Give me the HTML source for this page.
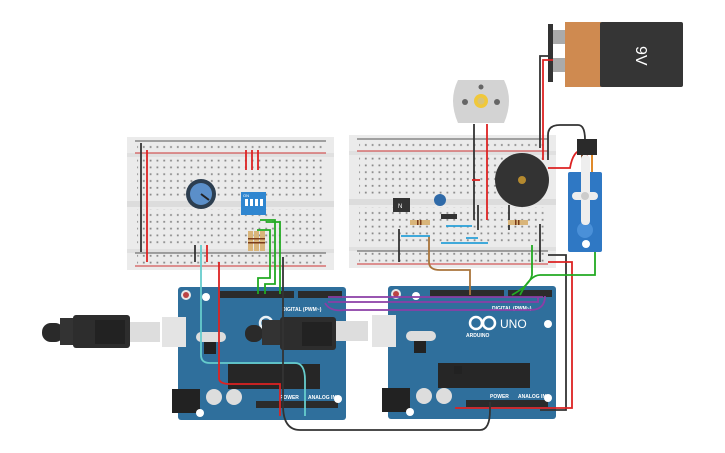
<!DOCTYPE html>
<html><head><meta charset="utf-8"><style>html,body{margin:0;padding:0;background:#fff}svg{display:block}</style></head><body>
<svg width="725" height="453" viewBox="0 0 725 453" xmlns="http://www.w3.org/2000/svg" font-family="Liberation Sans, sans-serif">
<defs>
<pattern id="dots" width="6.8" height="6.8" patternUnits="userSpaceOnUse"><rect x="2.3" y="2.3" width="1.8" height="1.8" fill="#8a8a8a"/></pattern>
<g id="bb">
<rect x="0" y="0" width="207" height="133" fill="#ebebeb"/>
<rect x="0" y="16" width="207" height="4" fill="#e0e0e0"/>
<rect x="0" y="64" width="207" height="6" fill="#dcdcdc"/>
<rect x="0" y="112" width="207" height="4" fill="#e0e0e0"/>
<line x1="8" y1="4" x2="199" y2="4" stroke="#555" stroke-width="1"/>
<line x1="8" y1="16" x2="199" y2="16" stroke="#c33" stroke-width="1"/>
<line x1="8" y1="116" x2="199" y2="116" stroke="#555" stroke-width="1"/>
<line x1="8" y1="129" x2="199" y2="129" stroke="#c33" stroke-width="1"/>
<rect x="10" y="5" width="188" height="10" fill="url(#dots)"/>
<rect x="10" y="22" width="188" height="40" fill="url(#dots)"/>
<rect x="10" y="72" width="188" height="38" fill="url(#dots)"/>
<rect x="10" y="117" width="188" height="10" fill="url(#dots)"/>
</g>
<g id="ard">
<rect x="0" y="0" width="168" height="133" rx="3" fill="#2f6f9c"/>
<rect x="42" y="4" width="74" height="7" fill="#2b2b2b"/>
<rect x="120" y="4" width="44" height="7" fill="#2b2b2b"/>
<rect x="50" y="77" width="92" height="25" fill="#262626"/>
<rect x="78" y="114" width="52" height="7" fill="#2b2b2b"/>
<rect x="116" y="114" width="44" height="7" fill="#2b2b2b"/>
<rect x="-6" y="102" width="28" height="24" fill="#222"/>
<circle cx="36" cy="110" r="8" fill="#ddd"/><circle cx="56" cy="110" r="8" fill="#ddd"/>
<rect x="18" y="45" width="30" height="10" rx="5" fill="#ddd"/>
<circle cx="8" cy="8" r="5" fill="#e8e8e8"/><circle cx="8" cy="8" r="3" fill="#b44"/>
<circle cx="28" cy="10" r="4" fill="#fff"/><circle cx="160" cy="38" r="4" fill="#fff"/><circle cx="160" cy="112" r="4" fill="#fff"/><circle cx="22" cy="126" r="4" fill="#fff"/>
<text x="104" y="24" font-size="5" fill="#fff" font-weight="bold">DIGITAL (PWM~)</text>
<text x="102" y="112" font-size="5" fill="#fff" font-weight="bold">POWER</text>
<text x="130" y="112" font-size="5" fill="#fff" font-weight="bold">ANALOG IN</text>
<rect x="26" y="55" width="12" height="12" fill="#222"/>
</g>
</defs>
<rect width="725" height="453" fill="#fff"/>
<use href="#bb" x="127" y="137"/>
<use href="#bb" x="349" y="135"/>
<use href="#ard" x="178" y="287"/>
<use href="#ard" x="388" y="286"/>
<g fill="none" stroke="#fff" stroke-width="2.5"><circle cx="476" cy="323" r="6"/><circle cx="489" cy="323" r="6"/></g>
<text x="500" y="328" font-size="12" fill="#fff">UNO</text>
<text x="466" y="337" font-size="5" fill="#fff" font-weight="bold">ARDUINO</text>
<g fill="none" stroke="#fff" stroke-width="2.5" opacity="0.9"><circle cx="266" cy="323" r="6"/></g>
<rect x="454" y="366" width="8" height="8" fill="#222"/>
<!-- left USB -->
<rect x="42" y="323" width="22" height="19" rx="9" fill="#2a2a2a"/>
<rect x="60" y="318" width="15" height="27" fill="#333"/>
<rect x="73" y="315" width="57" height="33" rx="3" fill="#2d2d2d"/>
<rect x="95" y="320" width="30" height="24" fill="#222"/>
<rect x="130" y="322" width="30" height="20" fill="#ddd"/>
<rect x="162" y="317" width="24" height="30" fill="#e4e4e4"/>
<!-- second USB -->
<rect x="245" y="325" width="18" height="17" rx="8" fill="#2a2a2a"/>
<rect x="262" y="320" width="20" height="25" fill="#333"/>
<rect x="280" y="317" width="56" height="33" rx="3" fill="#2d2d2d"/>
<rect x="302" y="322" width="30" height="24" fill="#222"/>
<rect x="336" y="321" width="32" height="20" fill="#ddd"/>
<rect x="372" y="315" width="24" height="32" fill="#e4e4e4"/>
<!-- battery -->
<rect x="548" y="24" width="5" height="58" fill="#333"/>
<rect x="553" y="30" width="12" height="14" fill="#aaa"/><rect x="553" y="58" width="12" height="14" fill="#aaa"/>
<rect x="565" y="22" width="36" height="65" fill="#cf8a50"/>
<rect x="600" y="22" width="83" height="65" rx="2" fill="#353535"/>
<text x="0" y="0" font-size="16" fill="#fff" transform="translate(636,46) rotate(90)">9V</text>
<!-- motor -->
<path d="M458 80 H504 Q514 100 504 123 H458 Q448 100 458 80Z" fill="#d3d3d3"/>
<circle cx="481" cy="101" r="7" fill="#f0c83a"/><circle cx="481" cy="101" r="3.5" fill="#d8c37a"/>
<circle cx="465" cy="102" r="3" fill="#666"/><circle cx="497" cy="102" r="3" fill="#666"/><circle cx="481" cy="87" r="2.5" fill="#666"/>
<g fill="none" stroke-width="1.8">
<path d="M474 124 V220" stroke="#333"/><path d="M487 124 V220" stroke="#d22"/>
<path d="M540 148 V56 H550" stroke="#333"/><path d="M543 160 V60 H553" stroke="#d22"/>
<path d="M548 160 V135 Q548 125 560 125 H578 Q585 125 585 140" stroke="#333"/>
<path d="M548 168 H570 Q573 150 583 150 H590" stroke="#d22"/>
<path d="M548 255 H566 V410 H540" stroke="#333"/>
<path d="M548 262 H572 V408 H455" stroke="#d22"/>
<path d="M595 250 V275 H540 Q530 275 520 295" stroke="#2a2"/>
<path d="M532 245 V275 Q530 285 512 295" stroke="#2a2"/>
<path d="M429 236 V262 Q429 270 440 270 H470 V295" stroke="#a9743b"/>
<path d="M328 297 H543 M328 302 H538 V297" stroke="#8b3ea6"/>
<path d="M325 303 Q330 312 345 310 H530 Q545 310 545 296" stroke="#8b3ea6"/>
<path d="M141 143 V252" stroke="#333"/><path d="M147 150 V262" stroke="#d22"/>
<path d="M246 150 V170 M252 150 V170 M258 150 V170" stroke="#d22"/>
<path d="M195 245 V262" stroke="#333"/><path d="M207 245 V262" stroke="#d22"/>
<path d="M201 245 V355 Q201 363 210 363 H295 Q305 363 305 380 V416" stroke="#6cc"/>
<path d="M219 262 V378 Q219 384 230 384 H280 V416" stroke="#d22"/>
<path d="M283 257 V405 Q283 430 300 430 H480 Q490 430 490 410 V402" stroke="#333"/>
<path d="M260 220 H275 V284 H265 V294 M257 230 H270 V278 H258 V294 M266 222 H280 V294" stroke="#2a2"/>
<path d="M472 180 H480" stroke="#d22"/>
<path d="M478 205 V230 M509 205 V230" stroke="#333"/>
<path d="M399 229 V262" stroke="#333"/><path d="M540 224 V262" stroke="#333"/>
<path d="M401 236 H430 M446 226 H472 M441 243 H488 M466 238 H478" stroke="#29a0d8"/>
</g>
<g fill="#d9b57a"><rect x="248" y="231" width="5" height="20"/><rect x="254" y="231" width="5" height="20"/><rect x="260" y="231" width="5" height="20"/>
<rect x="410" y="220" width="20" height="5"/><rect x="508" y="220" width="20" height="5"/></g>
<g fill="#7a3b1a"><rect x="248" y="238" width="17" height="1.5"/><rect x="248" y="242" width="17" height="1.5"/><rect x="417" y="220" width="1.5" height="5"/><rect x="420" y="220" width="1.5" height="5"/><rect x="515" y="220" width="1.5" height="5"/><rect x="518" y="220" width="1.5" height="5"/></g>
<circle cx="201" cy="194" r="15" fill="#2c3e50"/><circle cx="201" cy="194" r="11" fill="#5b8fc9"/>
<line x1="201" y1="194" x2="209" y2="200" stroke="#222" stroke-width="2"/>
<rect x="241" y="192" width="25" height="23" fill="#2f86d0"/>
<g fill="#fff"><rect x="245" y="199" width="3" height="7"/><rect x="250" y="199" width="3" height="7"/><rect x="255" y="199" width="3" height="7"/><rect x="260" y="199" width="3" height="7"/></g>
<text x="243" y="197" font-size="4" fill="#fff">ON</text>
<path d="M393 198 H410 V212 H393Z" fill="#333"/><text x="398" y="208" font-size="6" fill="#fff">N</text>
<circle cx="440" cy="200" r="6" fill="#2f6aa8"/>
<rect x="441" y="214" width="16" height="5" fill="#333"/>
<circle cx="522" cy="180" r="27" fill="#333"/><circle cx="522" cy="180" r="4" fill="#b58a2f"/>
<rect x="577" y="139" width="20" height="16" fill="#2a2a2a"/>
<path d="M582 155 V172" stroke="#7a4a2a" stroke-width="2"/><path d="M587 155 V172" stroke="#d22" stroke-width="2"/><path d="M592 155 V172" stroke="#e08a2a" stroke-width="2"/>
<rect x="568" y="172" width="34" height="80" rx="2" fill="#2f78c4"/>
<circle cx="585" cy="230" r="8" fill="#4a90d8"/>
<rect x="581" y="155" width="9" height="70" rx="4" fill="#eee"/>
<rect x="572" y="192" width="26" height="8" rx="4" fill="#eee"/>
<circle cx="585" cy="196" r="4" fill="#ccc"/>
<circle cx="586" cy="244" r="4" fill="#fff"/>
</svg>
</body></html>
